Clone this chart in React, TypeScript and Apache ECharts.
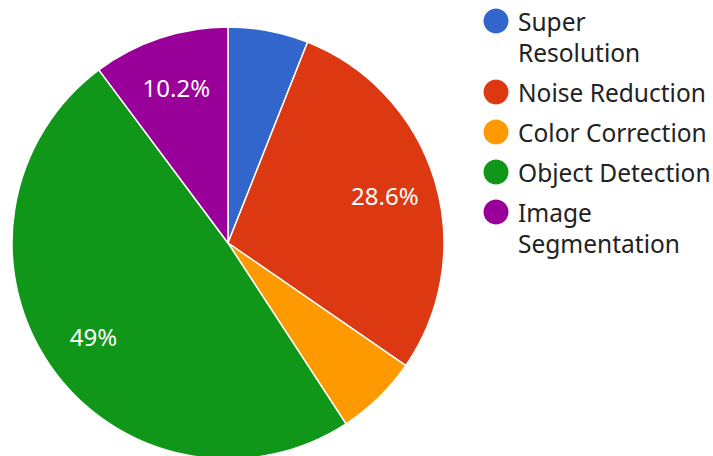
import React, { useEffect, useRef } from "react";
import * as echarts from "echarts";

const categories = ["Super Resolution", "Noise Reduction", "Color Correction", "Object Detection", "Image Segmentation"];
const legendLabels = ["Super\nResolution", "Noise Reduction", "Color Correction", "Object Detection", "Image\nSegmentation"];
const values = [6.0, 28.6, 6.2, 49.0, 10.2];
const colors = ["#3366cc", "#dc3912", "#ff9900", "#109618", "#990099"];
const showLabel = [false, true, false, true, true];

const FONT = "'Noto Sans', 'Open Sans', sans-serif";

export default function App() {
  const ref = useRef<HTMLDivElement>(null);
  useEffect(() => {
    if (!ref.current) return;
    const chart = echarts.init(ref.current, null, { renderer: "svg" });
    const total = values.reduce((a, b) => a + b, 0);

    const legendEls: any[] = [];
    let y = 21;
    legendLabels.forEach((lab, i) => {
      const lines = lab.split("\n").length;
      legendEls.push({
        type: "circle",
        shape: { cx: 496, cy: y, r: 12.5 },
        style: { fill: colors[i] },
      });
      legendEls.push({
        type: "text",
        x: 518,
        y: y - 15,
        style: {
          text: lab,
          fill: "#222222",
          font: `24.5px ${FONT}`,
          lineHeight: 31,
          verticalAlign: "top",
          align: "left",
        },
      });
      y += lines * 31 + 9;
    });

    const data = categories.map((c, i) => ({
      name: c,
      value: values[i],
      itemStyle: { color: colors[i] },
    }));
    const labelData = categories.map((c, i) => ({
      name: c,
      value: values[i],
      label: { show: showLabel[i] },
    }));

    chart.setOption({
      animation: false,
      textStyle: { fontFamily: FONT },
      series: [
        {
          type: "pie",
          center: [228, 243],
          radius: [0, 216],
          startAngle: 90,
          clockwise: true,
          silent: true,
          itemStyle: { borderColor: "#ffffff", borderWidth: 1.5 },
          label: { show: false },
          labelLine: { show: false },
          data,
        },
        {
          type: "pie",
          center: [228, 243],
          radius: [106, 216],
          startAngle: 90,
          clockwise: true,
          silent: true,
          itemStyle: { color: "rgba(0,0,0,0)", borderWidth: 0 },
          label: {
            show: true,
            position: "inside",
            color: "#ffffff",
            fontSize: 24,
            fontFamily: FONT,
            formatter: (p: any) => `${Math.round((p.value / total) * 1000) / 10}%`,
          },
          labelLine: { show: false },
          data: labelData,
        },
      ],
      graphic: legendEls,
    });
    return () => chart.dispose();
  }, []);
  return (
    <div
      ref={ref}
      style={{ position: "fixed", left: 0, top: 0, width: 713, height: 456, background: "#ffffff" }}
    />
  );
}
